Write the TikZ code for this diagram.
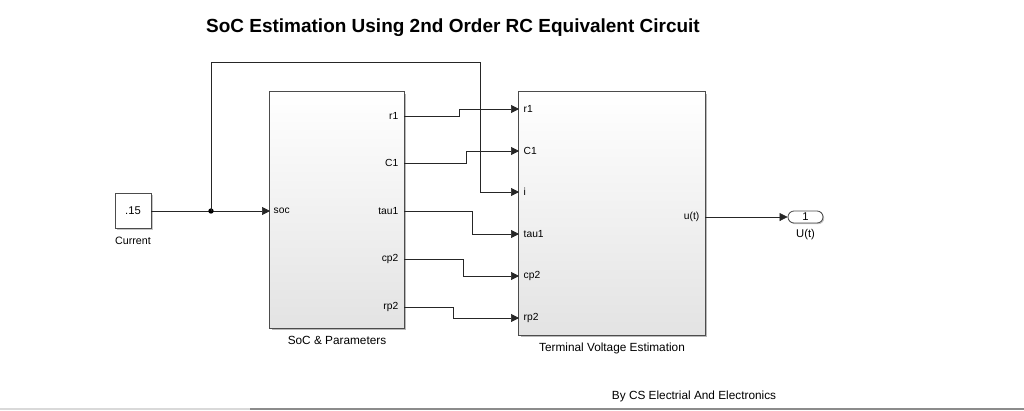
\documentclass[tikz,border=0pt]{standalone}
\usepackage{fontspec}
\setmainfont{Liberation Sans}
\usetikzlibrary{%
  arrows.meta,%
  shapes.misc,% wg. rounded rectangle
  shadows,%
  positioning,%
  calc%
}

\begin{document}
\begin{tikzpicture}[
  x=0.025cm, y=-0.025cm,
  font=\fontsize{7.3}{8}\selectfont, >={Triangle[length=2mm,width=2mm]},
  simblock/.style={rectangle, draw=black!70, line width=0.7pt, top color=white, bottom color=gray!22,
    drop shadow={shadow xshift=0.05cm, shadow yshift=-0.05cm, fill=gray!55, opacity=1}},
  constblock/.style={rectangle, draw=black!70, line width=0.6pt, fill=white, minimum width=0.9cm, minimum height=0.875cm,
    drop shadow={shadow xshift=0.04cm, shadow yshift=-0.04cm, fill=gray!45, opacity=1}},
  outblock/.style={rounded rectangle, draw=black!70, line width=0.6pt, fill=white, minimum width=0.875cm, minimum height=0.3cm, inner sep=0pt,
    drop shadow={shadow xshift=0.03cm, shadow yshift=-0.03cm, fill=gray!45, opacity=1}},
  portin/.style={anchor=west, inner sep=1pt},
  portout/.style={anchor=east, inner sep=1pt},
  sig/.style={draw=black!85, line width=0.5pt},
  caption/.style={font=\fontsize{8.4}{10}\selectfont}
]
\useasboundingbox (0,0) rectangle (1024,410);

\node[font=\bfseries\fontsize{13.5}{15}\selectfont] (title) at (453,28) {SoC Estimation Using 2nd Order RC Equivalent Circuit};

% blocks
\node[constblock, font=\fontsize{8}{9}\selectfont] (cur) at (133,211) {.15};
\node[caption, font=\fontsize{7.6}{9}\selectfont, below=2pt of cur] (curlbl) {Current};

\node[simblock, minimum width=3.35cm, minimum height=5.9cm] (soc) at (337,210) {};
\node[caption, below=2pt of soc] (soclbl) {SoC \& Parameters};

\node[simblock, minimum width=4.65cm, minimum height=6.075cm] (tve) at (612,213.5) {};
\node[caption, below=2pt of tve] (tvelbl) {Terminal Voltage Estimation};

\node[outblock, font=\fontsize{8}{9}\selectfont] (out) at (805.5,217) {1};
\node[caption, font=\fontsize{8}{9}\selectfont, below=1pt of out] (outlbl) {U(t)};

% ports of SoC & Parameters
\coordinate (socin) at (270,211);
\node[portin] at (272,211) {soc};
\foreach \nm/\yy in {r1/116, C1/163, tau1/211, cp2/259, rp2/307} {
  \coordinate (so-\nm) at (404,\yy);
  \node[portout] at (400,\yy) {\nm};
}

% ports of Terminal Voltage Estimation
\foreach \nm/\yy in {r1/109, C1/151, i/192, tau1/234, cp2/276, rp2/318} {
  \coordinate (ti-\nm) at (519,\yy);
  \node[portin] at (522,\yy) {\nm};
}
\coordinate (to-u) at (705,217);
\node[portout] at (701,217) {u(t)};

% signals
\coordinate (junc) at (211,211);
\draw[sig] (cur.east) -- (junc);
\draw[sig,->] (junc) -- (socin);
\fill[black] (junc) circle (1.9pt);
\draw[sig,->] (junc) -- ++(0,-149) -| ++(269,0) |- (ti-i);

\draw[sig,->] (so-r1) -- ++(55,0) |- (ti-r1);
\draw[sig,->] (so-C1) -- ++(62,0) |- (ti-C1);
\draw[sig,->] (so-tau1) -- ++(68,0) |- (ti-tau1);
\draw[sig,->] (so-cp2) -- ++(59,0) |- (ti-cp2);
\draw[sig,->] (so-rp2) -- ++(49,0) |- (ti-rp2);

\draw[sig,->] (to-u) -- (out.west);

\node[caption, anchor=west] (credit) at (607,396) {By CS Electrial And Electronics};

% bottom edge
\draw[gray!30, line width=0.8pt] (0,409) -- (250,409);
\draw[gray!90, line width=0.8pt] (250,409) -- (1024,409);
\end{tikzpicture}
\end{document}
